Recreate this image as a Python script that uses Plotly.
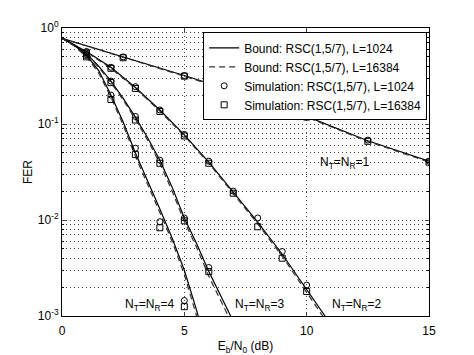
import math
import plotly.graph_objects as go

# ---- data ----
# N_T=N_R=1
n1_x = [0, 2.5, 5, 7.5, 10, 12.5, 15]
n1_bound_1024 = [0.78, 0.50, 0.32, 0.20, 0.12, 0.067, 0.041]
n1_bound_16384 = [0.78, 0.495, 0.315, 0.196, 0.118, 0.066, 0.040]
n1_sim_x = [2.5, 5, 7.5, 10, 12.5, 15]
n1_sim_1024 = [0.50, 0.32, 0.20, 0.122, 0.068, 0.041]
n1_sim_16384 = [0.49, 0.315, 0.195, 0.118, 0.066, 0.040]

# N_T=N_R=2
n2_x = [0, 1, 2, 3, 4, 5, 6, 7, 8, 9, 10, 10.75, 11]
n2_bound_1024 = [0.78, 0.57, 0.39, 0.24, 0.14, 0.077, 0.040, 0.0195, 0.0095, 0.0044, 0.0019, 0.001, 0.00078]
n2_bound_16384 = [0.78, 0.56, 0.38, 0.235, 0.136, 0.075, 0.039, 0.019, 0.0091, 0.0042, 0.0018, 0.00095, 0.00074]
n2_sim_x = [1, 2, 3, 4, 5, 6, 7, 8, 9, 10]
n2_sim_1024 = [0.57, 0.39, 0.245, 0.14, 0.078, 0.041, 0.020, 0.0105, 0.0047, 0.0021]
n2_sim_16384 = [0.55, 0.38, 0.235, 0.135, 0.075, 0.039, 0.019, 0.0085, 0.0040, 0.0018]

# N_T=N_R=3
n3_x = [0, 0.5, 1, 1.5, 2, 2.5, 3, 3.5, 4, 4.5, 5, 5.5, 6, 6.5, 7]
n3_bound_1024 = [0.78, 0.67, 0.54, 0.40, 0.28, 0.185, 0.118, 0.072, 0.042, 0.022, 0.0105, 0.0057, 0.0029, 0.0016, 0.00088]
n3_bound_16384 = [0.78, 0.66, 0.53, 0.39, 0.27, 0.178, 0.112, 0.068, 0.039, 0.020, 0.0097, 0.0052, 0.0026, 0.0014, 0.00078]
n3_sim_x = [1, 2, 3, 4, 5, 6]
n3_sim_1024 = [0.55, 0.28, 0.12, 0.042, 0.0105, 0.0032]
n3_sim_16384 = [0.52, 0.27, 0.11, 0.039, 0.0098, 0.0029]

# N_T=N_R=4
n4_x = [0, 0.5, 1, 1.5, 2, 2.5, 3, 3.5, 4, 4.5, 5, 5.5, 6]
n4_bound_1024 = [0.78, 0.66, 0.52, 0.36, 0.20, 0.105, 0.050, 0.026, 0.013, 0.0065, 0.0030, 0.00115, 0.0004]
n4_bound_16384 = [0.78, 0.65, 0.50, 0.34, 0.19, 0.098, 0.046, 0.024, 0.012, 0.0060, 0.0027, 0.0010, 0.00035]
n4_sim_x = [1, 2, 3, 4, 5]
n4_sim_1024 = [0.53, 0.20, 0.056, 0.0096, 0.00145]
n4_sim_16384 = [0.50, 0.18, 0.048, 0.0083, 0.00125]

curve_labels = ["N<sub>T</sub>=N<sub>R</sub>=1", "N<sub>T</sub>=N<sub>R</sub>=2",
                "N<sub>T</sub>=N<sub>R</sub>=3", "N<sub>T</sub>=N<sub>R</sub>=4"]
label_x = [10.46, 10.95, 6.99, 2.5]
label_y = [0.039, 0.0013, 0.0013, 0.0013]

x_ticks = [0, 5, 10, 15]
y_ticks = [1, 0.1, 0.01, 0.001]
y_ticktext = ["10<sup>0</sup>", "10<sup>-1</sup>", "10<sup>-2</sup>", "10<sup>-3</sup>"]

legend_names = ["Bound: RSC(1,5/7), L=1024", "Bound: RSC(1,5/7), L=16384",
                "Simulation: RSC(1,5/7), L=1024", "Simulation: RSC(1,5/7), L=16384"]

FONT = "Liberation Sans, Arial, sans-serif"
GRID = "#444"
GDASH = "1px,3px"

fig = go.Figure()

groups = [
    (n1_x, n1_bound_1024, n1_bound_16384, n1_sim_x, n1_sim_1024, n1_sim_16384),
    (n2_x, n2_bound_1024, n2_bound_16384, n2_sim_x, n2_sim_1024, n2_sim_16384),
    (n3_x, n3_bound_1024, n3_bound_16384, n3_sim_x, n3_sim_1024, n3_sim_16384),
    (n4_x, n4_bound_1024, n4_bound_16384, n4_sim_x, n4_sim_1024, n4_sim_16384),
]

for i, (bx, b1, b2, sx, s1, s2) in enumerate(groups):
    first = (i == 0)
    fig.add_trace(go.Scatter(x=bx, y=b1, mode="lines", name=legend_names[0],
                             line=dict(color="black", width=1.2),
                             showlegend=first, legendrank=1))
    fig.add_trace(go.Scatter(x=bx, y=b2, mode="lines", name=legend_names[1],
                             line=dict(color="#333", width=1.2, dash="6px,4px"),
                             showlegend=first, legendrank=2))
    fig.add_trace(go.Scatter(x=sx, y=s1, mode="markers", name=legend_names[2],
                             marker=dict(symbol="circle-open", size=6, color="black",
                                         line=dict(width=1, color="black")),
                             showlegend=first, legendrank=3))
    fig.add_trace(go.Scatter(x=sx, y=s2, mode="markers", name=legend_names[3],
                             marker=dict(symbol="square-open", size=6, color="black",
                                         line=dict(width=1, color="black")),
                             showlegend=first, legendrank=4))

for txt, lx, ly in zip(curve_labels, label_x, label_y):
    fig.add_annotation(x=lx, y=math.log10(ly), text=txt, showarrow=False,
                       xanchor="left", yanchor="middle",
                       font=dict(family=FONT, size=12, color="black"))

fig.update_layout(
    width=474, height=355,
    margin=dict(l=62, r=45, t=28, b=39),
    paper_bgcolor="white", plot_bgcolor="white",
    font=dict(family=FONT, size=11, color="black"),
    showlegend=True,
    legend=dict(x=0.995, y=0.985, xanchor="right", yanchor="top",
                bgcolor="white", bordercolor="black", borderwidth=1,
                font=dict(family=FONT, size=12, color="black"),
                tracegroupgap=0, itemwidth=30),
)

fig.update_xaxes(
    range=[0, 15], tickvals=x_ticks, ticks="inside", ticklen=4,
    ticklabelstandoff=4, automargin=False,
    showline=True, linecolor="black", linewidth=1, mirror="allticks",
    showgrid=True, gridcolor=GRID, griddash=GDASH, gridwidth=1,
    zeroline=False,
    title=dict(text="E<sub>b</sub>/N<sub>0</sub> (dB)", standoff=6,
               font=dict(family=FONT, size=12)),
    tickfont=dict(family=FONT, size=12),
)
fig.update_yaxes(
    type="log", range=[-3, 0], tickvals=y_ticks, ticktext=y_ticktext,
    ticks="inside", ticklen=4, automargin=False,
    showline=True, linecolor="black", linewidth=1, mirror="allticks",
    showgrid=True, gridcolor=GRID, griddash=GDASH, gridwidth=1,
    minor=dict(ticks="inside", ticklen=2, showgrid=True, gridcolor=GRID,
               griddash=GDASH, gridwidth=1, dtick="D1", tickcolor="black"),
    title=dict(text="FER", standoff=2, font=dict(family=FONT, size=12)),
    tickfont=dict(family=FONT, size=12),
)

fig.write_html("out.html")
